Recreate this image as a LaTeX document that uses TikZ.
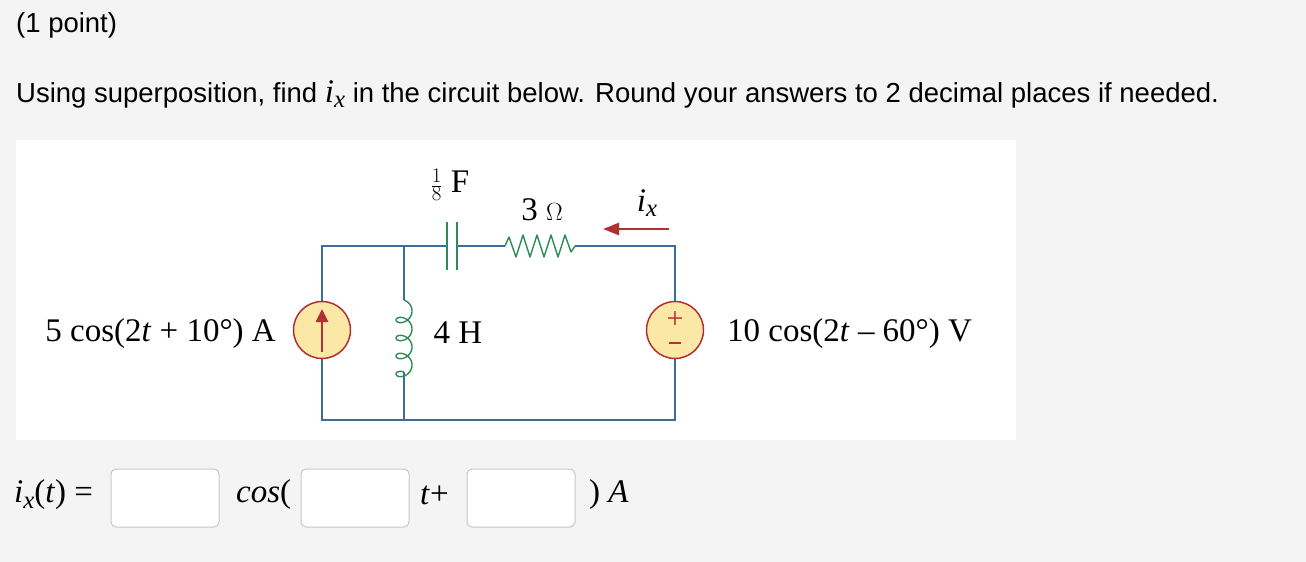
\documentclass[tikz,border=0pt]{standalone}
\usepackage{fontspec}
\setmainfont{Liberation Serif}
\newfontfamily\uisans{Liberation Sans}
\usetikzlibrary{arrows.meta}
\definecolor{bg}{HTML}{F4F4F4}
\definecolor{wire}{HTML}{3E6C9A}
\definecolor{comp}{HTML}{2E8B57}
\definecolor{srcfill}{HTML}{FBE8A6}
\definecolor{srcred}{HTML}{B22F33}
\definecolor{boxline}{HTML}{C8C8C8}
\newcommand{\ixsym}{\textit{i}\raisebox{-0.35ex}{\fontsize{0.75em}{1em}\selectfont\textit{x}}}
\tikzset{
  wirestyle/.style={draw=wire,line width=1.4pt},
  compstyle/.style={draw=comp,line width=1.4pt},
  srcstyle/.style={circle,draw=srcred,fill=srcfill,line width=1.5pt,minimum size=57pt,inner sep=0pt},
  lbl/.style={font=\fontsize{33}{36}\selectfont,inner sep=0pt},
  ui/.style={font=\uisans\fontsize{27.5}{32}\selectfont,inner sep=0pt,anchor=west},
  ansbox/.style={draw=boxline,fill=white,rounded corners=5pt,line width=1pt,minimum width=108pt,minimum height=58pt,inner sep=0pt},
  mathlbl/.style={font=\fontsize{33}{36}\selectfont,inner sep=0pt}
}
\begin{document}
\begin{tikzpicture}[x=1pt,y=-1pt]
\fill[bg] (0,0) rectangle (1306,562);
\useasboundingbox (0,0) rectangle (1306,562);
\fill[white] (16,140) rectangle (1016,440);
\node[ui] (pt) at (16,25) {(1 point)};
\node[ui] (q) at (16,94) {Using superposition, find \textrm{\fontsize{33}{36}\selectfont\ixsym} in the circuit below. Round your answers to 2 decimal places if needed.};
% coordinates
\coordinate (tl) at (322,246);
\coordinate (tm) at (404,246);
\coordinate (tr) at (675,246);
\coordinate (bl) at (322,420);
\coordinate (bm) at (404,420);
\coordinate (br) at (675,420);
\coordinate (c1) at (447,246);
\coordinate (c2) at (457,246);
\coordinate (r1) at (505,246);
\coordinate (r2) at (575,246);
\coordinate (l1) at (404,300);
\coordinate (l2) at (404,372);
\node[srcstyle] (is) at (322,330) {};
\node[srcstyle] (vs) at (675,330) {};
% wires
\draw[wirestyle] (is.north) -- (tl) -- (tm) -- (c1);
\draw[wirestyle] (c2) -- (r1);
\draw[wirestyle] (r2) -- (tr) -- (vs.north);
\draw[wirestyle] (is.south) -- (bl) -- (bm) -- (br) -- (vs.south);
\draw[wirestyle] (tm) -- (l1);
\draw[wirestyle] (l2) -- (bm);
% capacitor
\draw[compstyle] (447,222) -- (447,270) (457,222) -- (457,270);
% resistor
\draw[compstyle,line join=round] (r1) -- (509,237) -- (516,257) -- (523,235) -- (530,257) -- (537,235) -- (544,257) -- (551,235) -- (558,257) -- (565,235) -- (571,252) -- (r2);
% inductor
\draw[compstyle] plot[domain=-1.5708:23.5619,samples=300,smooth] ({404+8*cos(\x r)},{306.5+2.865*(\x+1.5708)+6.5*sin(\x r)});
% source symbols
\draw[srcred,line width=2.6pt,-{Triangle[length=13pt,width=12pt]}] (322,352) -- (322,309);
\node[font=\fontsize{30}{32}\selectfont,text=srcred,inner sep=0pt] (pl) at (675,320) {+};
\draw[srcred,line width=1.5pt] (669,343) -- (681,343);
% ix arrow
\coordinate (a1) at (669,229);
\coordinate (a2) at (603,229);
\draw[srcred,line width=2.6pt,-{Triangle[length=16pt,width=12pt]}] (a1) -- (a2);
% labels
\node[lbl] (fl) at (450,185) {{\fontsize{30}{32}\selectfont$\frac{1}{8}$} F};
\node[lbl] (rl) at (542,210) {3 $\Omega$};
\node[lbl] (il) at (647,203) {\ixsym};
\node[lbl] (ll) at (458,333) {4 H};
\node[lbl,anchor=east] (isl) at (276,334) {5 cos(2\textit{t} + 10°) A};
\node[lbl,anchor=west] (vsl) at (727,334) {10 cos(2\textit{t} – 60°) V};
% answer row
\node[mathlbl,anchor=west] (ans) at (14,495) {\ixsym(\textit{t}) =};
\node[ansbox] (b1) at (165,498) {};
\node[mathlbl,anchor=west] (cos) at (236,495) {\textit{cos}(};
\node[ansbox] (b2) at (355,498) {};
\node[mathlbl,anchor=west] (tp) at (420,495) {\textit{t}+};
\node[ansbox] (b3) at (521,498) {};
\node[mathlbl,anchor=west] (end) at (589,495) {) \textit{A}};
\end{tikzpicture}
\end{document}
